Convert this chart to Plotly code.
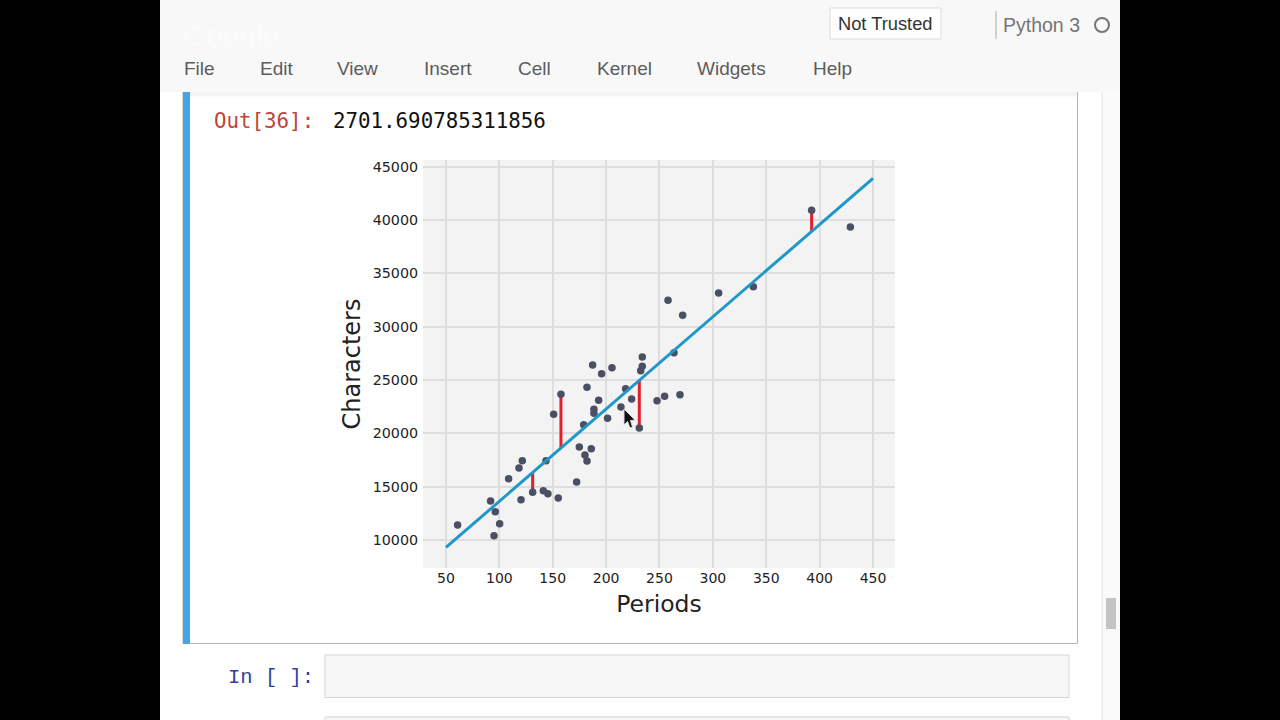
import plotly.graph_objects as go

# scatter points
periods = [60.9, 95, 100.3, 96.2, 91.8, 108.7, 120.3, 118.4, 121.5, 131.2, 141.2, 145.5, 155.2, 143.7,
           157.7, 150.9, 172.4, 174.9, 186.1, 180.2, 182.1, 179, 188.6, 188.6, 193, 201.4, 182.1, 187.4,
           195.8, 205.5, 213.9, 218.3, 223.9, 231.1, 232.4, 233.9, 233.9, 247.7, 254.8, 269.2, 263.6,
           258, 271.7, 305.4, 337.9, 392.5, 428.8]
characters = [11406, 10406, 11531, 12656, 13656, 15750, 13781, 16750, 17437, 14469, 14625, 14344, 13937, 17437,
              23656, 21781, 15437, 18719, 18562, 17969, 17406, 20812, 22250, 21875, 23094, 21406, 24312, 26406,
              25594, 26156, 22469, 24187, 23219, 20500, 25875, 26281, 27156, 23062, 23469, 23625, 27562,
              32469, 31062, 33156, 33750, 40906, 39344]

# fitted line ends
line_x = [50, 450]
line_y = [9300, 43900]

# residuals: x, point value, value on the line
resid_x = [131.2, 157.7, 231.1, 392.5]
resid_point = [14469, 23656, 20500, 40906]
resid_line = [16300, 18620, 25000, 38920]

x_ticks = [50, 100, 150, 200, 250, 300, 350, 400, 450]
y_ticks = [10000, 15000, 20000, 25000, 30000, 35000, 40000, 45000]

menu_items = [("File", 182), ("Edit", 258), ("View", 335), ("Insert", 422), ("Cell", 516),
              ("Kernel", 595), ("Widgets", 695), ("Help", 811)]

W, H = 1280, 720


def px(x):
    return x / W


def py(y):
    return 1 - y / H


def box(x0, y0, x1, y1, fill, line=None, lw=1, layer="below"):
    return dict(type="rect", xref="paper", yref="paper", x0=px(x0), x1=px(x1), y0=py(y0), y1=py(y1),
                fillcolor=fill, line=dict(color=line or fill, width=lw if line else 0), layer=layer)


def label(text, x, y, size, color, font="Liberation Sans", anchor="left"):
    return dict(text=text, x=px(x), y=py(y), xref="paper", yref="paper", xanchor=anchor, yanchor="middle",
                showarrow=False, font=dict(family=font, size=size, color=color))


fig = go.Figure()

for i in range(len(resid_x)):
    fig.add_trace(go.Scatter(x=[resid_x[i], resid_x[i]], y=[resid_point[i], resid_line[i]], mode="lines",
                             line=dict(color="#e3202a", width=3), showlegend=False))

fig.add_trace(go.Scatter(x=periods, y=characters, mode="markers",
                         marker=dict(color="#4a4f63", size=7.5), showlegend=False))
fig.add_trace(go.Scatter(x=line_x, y=line_y, mode="lines",
                         line=dict(color="#1f97c9", width=3), showlegend=False))

shapes = [
    box(0, 0, 160, 720, "#000000"),
    box(1120, 0, 1280, 720, "#000000"),
    box(1102, 92, 1120, 720, "#fafafa"),
    box(1101.5, 92, 1102.5, 720, "#e4e4e4"),
    box(1106, 598, 1116, 629, "#c4c4c4"),
    # output cell, no fill so the plot background stays visible
    box(183, 92, 1077.5, 643.5, "rgba(0,0,0,0)", "#b5b5b5", 1),
    # header with its soft shadow
    box(190, 96, 1077, 99, "#fbfbfb"),
    box(190, 92, 1077, 96, "#f4f4f4"),
    box(183, 92, 190, 644, "#42a5e8"),
    # input cells
    box(325, 655, 1069, 697.5, "#f7f7f7", "#d4d4d4", 1),
    box(325, 717, 1069, 730, "#f7f7f7", "#d4d4d4", 1),
    box(160, 0, 1120, 92, "#f8f8f8"),
    box(830, 8, 941, 39, "#ffffff", "#dcdcdc", 1),
    box(995.5, 11, 996.5, 39, "#a8a8a8"),
    dict(type="circle", xref="paper", yref="paper", x0=px(1095), x1=px(1109), y0=py(32), y1=py(18),
         line=dict(color="#757575", width=2), fillcolor="rgba(0,0,0,0)"),
    # mouse pointer
    dict(type="path", xref="paper", yref="paper", layer="above",
         path="M {} {} L {} {} L {} {} L {} {} L {} {} L {} {} L {} {} Z".format(
             px(624), py(409), px(624), py(425), px(627.5), py(421.5), px(630), py(428),
             px(632.5), py(427), px(630.5), py(420.5), px(635), py(420)),
         fillcolor="#111111", line=dict(color="#dddddd", width=1)),
]

annotations = [label(name, x, 68.5, 19, "#5c5c5c") for name, x in menu_items]
annotations += [
    label("Google", 181, 35, 30, "#fbfbfb"),
    label("Not Trusted", 885, 24, 18.3, "#333333", anchor="center"),
    label("Python 3", 1001, 25.5, 19.5, "#757575"),
    label("Out[36]:", 212, 121, 20.8, "#c0453a", "DejaVu Sans Mono"),
    label("2701.690785311856", 331, 121, 20.8, "#111111", "DejaVu Sans Mono"),
    label("In [ ]:", 226, 677, 20.5, "#303f9f", "Liberation Mono"),
]

fig.update_layout(
    width=W, height=H,
    margin=dict(l=0, r=0, t=0, b=0),
    paper_bgcolor="#ffffff",
    plot_bgcolor="#f3f3f3",
    showlegend=False,
    shapes=shapes,
    annotations=annotations,
    xaxis=dict(domain=[px(423), px(895)], range=[28.5, 470.6], tickvals=x_ticks, showline=False, zeroline=False,
               gridcolor="#dedede", gridwidth=1.6, ticks="", ticklen=0,
               tickfont=dict(family="DejaVu Sans", size=14, color="#222222"),
               title=dict(text="Periods", standoff=10, font=dict(family="DejaVu Sans", size=23.5, color="#222222"))),
    yaxis=dict(domain=[py(568), py(160)], range=[7375, 45625], tickvals=y_ticks, tickformat="d", showline=False,
               zeroline=False, gridcolor="#dedede", gridwidth=1.6,
               ticks="outside", ticklen=1, tickcolor="rgba(0,0,0,0)",
               tickfont=dict(family="DejaVu Sans", size=14.3, color="#222222"),
               title=dict(text="Characters", standoff=5, font=dict(family="DejaVu Sans", size=24, color="#222222"))),
)

fig.write_html("out.html", config=dict(displayModeBar=False),
               post_script="document.body.style.margin='0';document.body.style.overflow='hidden';")
